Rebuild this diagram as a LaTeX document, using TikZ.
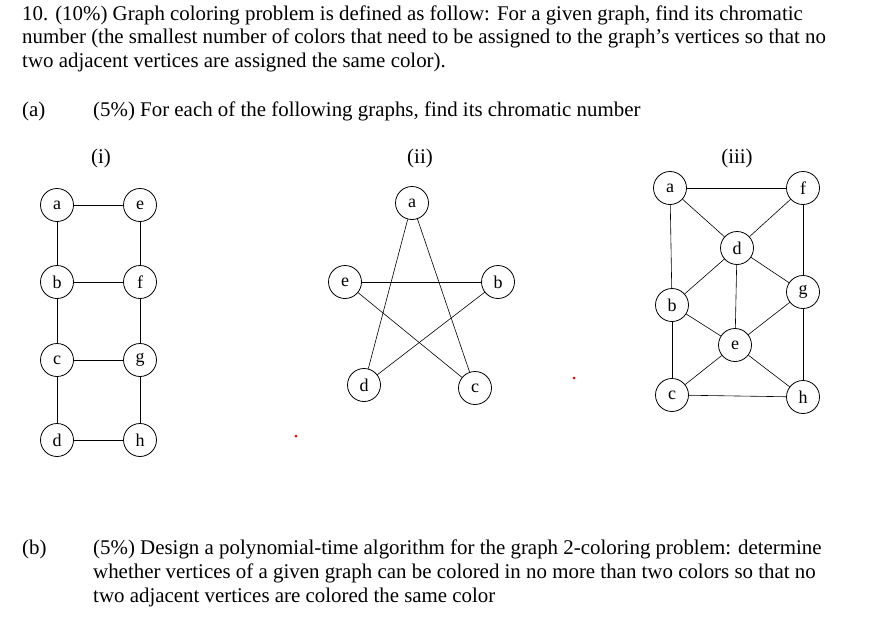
\documentclass[tikz,border=0pt]{standalone}
\usepackage{fontspec}
\setmainfont{Liberation Serif}
\begin{document}
\begin{tikzpicture}[x=1pt,y=-1pt,
  v/.style={circle,draw,line width=0.8pt,minimum size=33pt,inner sep=0pt,font=\fontsize{18}{20}\selectfont,fill=white},
  txt/.style={anchor=base west,inner sep=0pt,font=\fontsize{20.9}{23}\selectfont},
  e/.style={draw,line width=0.6pt}]
\useasboundingbox (0,0) rectangle (878,642);
\node[txt] (t1) at (22,21) {10. (10\%) Graph coloring problem is defined as follow: For a given graph, find its chromatic};
\node[txt] (t2) at (22,44) {number (the smallest number of colors that need to be assigned to the graph’s vertices so that no};
\node[txt] (t3) at (22,67) {two adjacent vertices are assigned the same color).};
\node[txt] (pa) at (22,116) {(a)};
\node[txt] (pat) at (93,116) {(5\%) For each of the following graphs, find its chromatic number};
\node[txt,anchor=base] (l1) at (101,163) {(i)};
\node[txt,anchor=base] (l2) at (420,163) {(ii)};
\node[txt,anchor=base] (l3) at (737,163) {(iii)};
\node[txt] (pb) at (22,554) {(b)};
\node[txt] (pb1) at (93,554) {(5\%) Design a polynomial-time algorithm for the graph 2-coloring problem: determine};
\node[txt] (pb2) at (93,578) {whether vertices of a given graph can be colored in no more than two colors so that no};
\node[txt] (pb3) at (93,602) {two adjacent vertices are colored the same color};
% (i)
\node[v] (ia) at (57,205) {a}; \node[v] (ie) at (140,205) {e};
\node[v] (ib) at (57,282) {b}; \node[v] (if) at (140,282) {f};
\node[v] (ic) at (57,360) {c}; \node[v] (ig) at (140,360) {g};
\node[v] (id) at (57,440) {d}; \node[v] (ih) at (140,440) {h};
\foreach \p/\q in {ia/ie,ia/ib,ib/if,ib/ic,ic/ig,ic/id,id/ih,ie/if,if/ig,ig/ih} \path[e] (\p) -- (\q);
% (ii)
\node[v] (ja) at (412,203) {a}; \node[v] (je) at (345,282) {e};
\node[v] (jb) at (498,282) {b}; \node[v] (jd) at (364,385) {d};
\node[v] (jc) at (475,388) {c};
\foreach \p/\q in {ja/jd,ja/jc,je/jb,je/jc,jd/jb} \path[e] (\p) -- (\q);
% (iii)
\node[v] (ka) at (670,188) {a}; \node[v] (kf) at (803,188) {f};
\node[v] (kd) at (737,248) {d}; \node[v] (kb) at (672,305) {b};
\node[v] (kg) at (803,292) {g}; \node[v] (ke) at (735,345) {e};
\node[v] (kc) at (672,395) {c}; \node[v] (kh) at (803,397) {h};
\foreach \p/\q in {ka/kf,ka/kd,ka/kb,kf/kd,kf/kg,kd/kb,kd/kg,kd/ke,kb/ke,kb/kc,kg/ke,kg/kh,ke/kc,ke/kh,kc/kh} \path[e] (\p) -- (\q);
\fill[red] (296,436) circle (1.5pt);
\fill[red] (574,378) circle (1.5pt);
\end{tikzpicture}
\end{document}
